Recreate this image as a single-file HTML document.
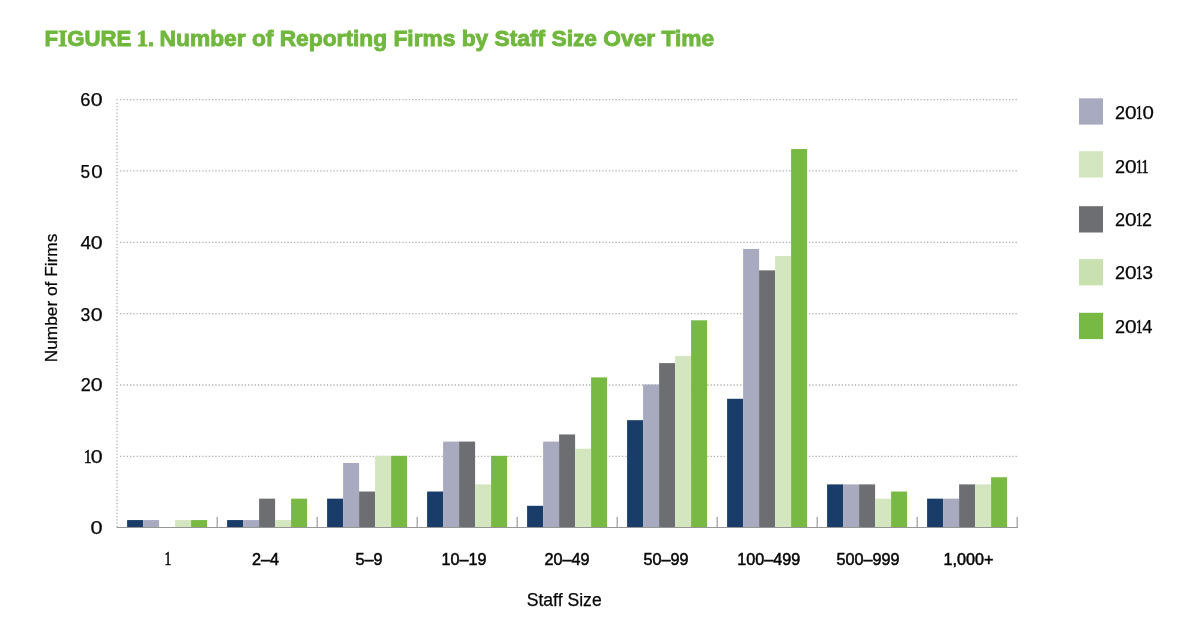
<!DOCTYPE html>
<html lang="en"><head><meta charset="utf-8"><title>FIGURE 1. Number of Reporting Firms by Staff Size Over Time</title>
<style>
html,body{margin:0;padding:0;background:#fff;}
body{width:1200px;height:626px;overflow:hidden;font-family:"Liberation Sans",sans-serif;}
svg{display:block}
text{font-family:"Liberation Sans",sans-serif;fill:#050505;stroke:#050505;stroke-width:0.25px;}
.title{font-weight:bold;font-size:22.6px;fill:#70b73d;stroke:#70b73d;stroke-width:0.9px;stroke-linejoin:miter;}
.sf{font-family:"Liberation Serif",serif;}
.title .sf{font-size:23.7px;}
.fz{font-size:18.8px;}
.fz .sf{font-size:19.7px;stroke-width:0.6px;}
.xt{font-size:16.2px;text-anchor:middle;stroke-width:0.5px;}
.ax{font-size:17.6px;}
</style></head><body>
<svg width="1200" height="626" viewBox="0 0 1200 626">
<rect width="1200" height="626" fill="#ffffff"/>
<text class="title" x="44.6" y="45.5" textLength="86.8" lengthAdjust="spacingAndGlyphs">F<tspan class="sf">I</tspan>GURE</text>
<text class="title" x="136.4" y="45.5" textLength="17.8" lengthAdjust="spacingAndGlyphs"><tspan class="sf">1</tspan>.</text>
<text class="title" x="159.6" y="45.5" textLength="554.6" lengthAdjust="spacingAndGlyphs">Number of Reporting Firms by Staff Size Over Time</text>
<line x1="120.15" y1="456.35" x2="1017.2" y2="456.35" stroke="#b0b0b0" stroke-width="1.3" stroke-dasharray="1.3 1.98"/>
<line x1="120.15" y1="385.00" x2="1017.2" y2="385.00" stroke="#b0b0b0" stroke-width="1.3" stroke-dasharray="1.3 1.98"/>
<line x1="120.15" y1="313.65" x2="1017.2" y2="313.65" stroke="#b0b0b0" stroke-width="1.3" stroke-dasharray="1.3 1.98"/>
<line x1="120.15" y1="242.30" x2="1017.2" y2="242.30" stroke="#b0b0b0" stroke-width="1.3" stroke-dasharray="1.3 1.98"/>
<line x1="120.15" y1="170.95" x2="1017.2" y2="170.95" stroke="#b0b0b0" stroke-width="1.3" stroke-dasharray="1.3 1.98"/>
<line x1="120.15" y1="99.60" x2="1017.2" y2="99.60" stroke="#b0b0b0" stroke-width="1.3" stroke-dasharray="1.3 1.98"/>
<line x1="117.0" y1="98.95" x2="117.0" y2="100.25" stroke="#b0b0b0" stroke-width="1.3"/>
<line x1="117.0" y1="102.7" x2="117.0" y2="527" stroke="#b0b0b0" stroke-width="1.3" stroke-dasharray="1.3 1.98"/>
<text class="fz" y="533.80"><tspan x="90.48" textLength="12.08" lengthAdjust="spacingAndGlyphs">0</tspan></text>
<text class="fz" y="463.45"><tspan class="sf" x="83.90" textLength="7.59" lengthAdjust="spacingAndGlyphs">1</tspan><tspan x="90.75" textLength="11.85" lengthAdjust="spacingAndGlyphs">0</tspan></text>
<text class="fz" y="390.80"><tspan x="80.69" textLength="10.08" lengthAdjust="spacingAndGlyphs">2</tspan><tspan x="90.75" textLength="11.85" lengthAdjust="spacingAndGlyphs">0</tspan></text>
<text class="fz" y="320.65"><tspan x="80.55" textLength="9.78" lengthAdjust="spacingAndGlyphs">3</tspan><tspan x="90.75" textLength="11.85" lengthAdjust="spacingAndGlyphs">0</tspan></text>
<text class="fz" y="248.60"><tspan x="80.52" textLength="10.67" lengthAdjust="spacingAndGlyphs">4</tspan><tspan x="90.75" textLength="11.85" lengthAdjust="spacingAndGlyphs">0</tspan></text>
<text class="fz" y="178.25"><tspan x="80.62" textLength="9.54" lengthAdjust="spacingAndGlyphs">5</tspan><tspan x="91.38" textLength="11.38" lengthAdjust="spacingAndGlyphs">0</tspan></text>
<text class="fz" y="106.10"><tspan x="80.33" textLength="10.18" lengthAdjust="spacingAndGlyphs">6</tspan><tspan x="90.75" textLength="11.85" lengthAdjust="spacingAndGlyphs">0</tspan></text>
<rect x="127.10" y="520.07" width="16.0" height="7.23" fill="#1a3c69"/>
<rect x="143.10" y="520.07" width="16.0" height="7.23" fill="#a8aac0"/>
<rect x="175.10" y="520.07" width="16.0" height="7.23" fill="#d3e6bf"/>
<rect x="191.10" y="520.07" width="16.0" height="7.23" fill="#77b943"/>
<rect x="227.10" y="520.07" width="16.0" height="7.23" fill="#1a3c69"/>
<rect x="243.10" y="520.07" width="16.0" height="7.23" fill="#a8aac0"/>
<rect x="259.10" y="498.66" width="16.0" height="28.64" fill="#6d6e71"/>
<rect x="275.10" y="520.07" width="16.0" height="7.23" fill="#d3e6bf"/>
<rect x="291.10" y="498.66" width="16.0" height="28.64" fill="#77b943"/>
<rect x="327.10" y="498.66" width="16.0" height="28.64" fill="#1a3c69"/>
<rect x="343.10" y="462.99" width="16.0" height="64.31" fill="#a8aac0"/>
<rect x="359.10" y="491.53" width="16.0" height="35.77" fill="#6d6e71"/>
<rect x="375.10" y="455.85" width="16.0" height="71.45" fill="#d3e6bf"/>
<rect x="391.10" y="455.85" width="16.0" height="71.45" fill="#77b943"/>
<rect x="427.10" y="491.53" width="16.0" height="35.77" fill="#1a3c69"/>
<rect x="443.10" y="441.58" width="16.0" height="85.72" fill="#a8aac0"/>
<rect x="459.10" y="441.58" width="16.0" height="85.72" fill="#6d6e71"/>
<rect x="475.10" y="484.39" width="16.0" height="42.91" fill="#d3e6bf"/>
<rect x="491.10" y="455.85" width="16.0" height="71.45" fill="#77b943"/>
<rect x="527.10" y="505.80" width="16.0" height="21.50" fill="#1a3c69"/>
<rect x="543.10" y="441.58" width="16.0" height="85.72" fill="#a8aac0"/>
<rect x="559.10" y="434.45" width="16.0" height="92.85" fill="#6d6e71"/>
<rect x="575.10" y="448.72" width="16.0" height="78.58" fill="#d3e6bf"/>
<rect x="591.10" y="377.37" width="16.0" height="149.93" fill="#77b943"/>
<rect x="627.10" y="420.18" width="16.0" height="107.12" fill="#1a3c69"/>
<rect x="643.10" y="384.50" width="16.0" height="142.80" fill="#a8aac0"/>
<rect x="659.10" y="363.10" width="16.0" height="164.20" fill="#6d6e71"/>
<rect x="675.10" y="355.96" width="16.0" height="171.34" fill="#d3e6bf"/>
<rect x="691.10" y="320.29" width="16.0" height="207.01" fill="#77b943"/>
<rect x="727.10" y="398.77" width="16.0" height="128.53" fill="#1a3c69"/>
<rect x="743.10" y="248.94" width="16.0" height="278.36" fill="#a8aac0"/>
<rect x="759.10" y="270.34" width="16.0" height="256.96" fill="#6d6e71"/>
<rect x="775.10" y="256.07" width="16.0" height="271.23" fill="#d3e6bf"/>
<rect x="791.10" y="149.05" width="16.0" height="378.25" fill="#77b943"/>
<rect x="827.10" y="484.39" width="16.0" height="42.91" fill="#1a3c69"/>
<rect x="843.10" y="484.39" width="16.0" height="42.91" fill="#a8aac0"/>
<rect x="859.10" y="484.39" width="16.0" height="42.91" fill="#6d6e71"/>
<rect x="875.10" y="498.66" width="16.0" height="28.64" fill="#d3e6bf"/>
<rect x="891.10" y="491.53" width="16.0" height="35.77" fill="#77b943"/>
<rect x="927.10" y="498.66" width="16.0" height="28.64" fill="#1a3c69"/>
<rect x="943.10" y="498.66" width="16.0" height="28.64" fill="#a8aac0"/>
<rect x="959.10" y="484.39" width="16.0" height="42.91" fill="#6d6e71"/>
<rect x="975.10" y="484.39" width="16.0" height="42.91" fill="#d3e6bf"/>
<rect x="991.10" y="477.26" width="16.0" height="50.04" fill="#77b943"/>
<line x1="116.7" y1="527.5" x2="1017.8" y2="527.5" stroke="#969696" stroke-width="1.15"/>
<line x1="217.2" y1="517" x2="217.2" y2="528.1" stroke="#969696" stroke-width="1.15"/>
<line x1="317.2" y1="517" x2="317.2" y2="528.1" stroke="#969696" stroke-width="1.15"/>
<line x1="417.2" y1="517" x2="417.2" y2="528.1" stroke="#969696" stroke-width="1.15"/>
<line x1="517.2" y1="517" x2="517.2" y2="528.1" stroke="#969696" stroke-width="1.15"/>
<line x1="617.2" y1="517" x2="617.2" y2="528.1" stroke="#969696" stroke-width="1.15"/>
<line x1="717.2" y1="517" x2="717.2" y2="528.1" stroke="#969696" stroke-width="1.15"/>
<line x1="817.2" y1="517" x2="817.2" y2="528.1" stroke="#969696" stroke-width="1.15"/>
<line x1="917.2" y1="517" x2="917.2" y2="528.1" stroke="#969696" stroke-width="1.15"/>
<line x1="1017.2" y1="517" x2="1017.2" y2="528.1" stroke="#969696" stroke-width="1.15"/>
<text class="fz" y="564.80"><tspan class="sf" x="164.54" textLength="6.80" lengthAdjust="spacingAndGlyphs">1</tspan></text>
<text class="xt" x="265.6" y="564.9">2–4</text>
<text class="xt" x="369.1" y="564.9">5–9</text>
<text class="xt" x="464.0" y="564.9">10–19</text>
<text class="xt" x="567.1" y="564.9">20–49</text>
<text class="xt" x="666.0" y="564.9">50–99</text>
<text class="xt" x="768.75" y="564.9">100–499</text>
<text class="xt" x="867.9" y="564.9">500–999</text>
<text class="xt" x="968.5" y="564.9">1,000+</text>
<text class="ax" x="564.2" y="605.5" text-anchor="middle">Staff Size</text>
<text class="ax" style="font-size:17.3px" transform="translate(57.0 298) rotate(-90)" text-anchor="middle">Number of Firms</text>
<rect x="1079" y="98.30" width="24" height="26.3" fill="#a8aac0"/>
<text class="fz" y="119.15"><tspan x="1115.04" textLength="10.08" lengthAdjust="spacingAndGlyphs">2</tspan><tspan x="1125.02" textLength="11.61" lengthAdjust="spacingAndGlyphs">0</tspan><tspan class="sf" x="1135.94" textLength="6.51" lengthAdjust="spacingAndGlyphs">1</tspan><tspan x="1142.53" textLength="11.38" lengthAdjust="spacingAndGlyphs">0</tspan></text>
<rect x="1079" y="151.20" width="24" height="26.3" fill="#d3e6bf"/>
<text class="fz" y="172.80"><tspan x="1115.04" textLength="10.08" lengthAdjust="spacingAndGlyphs">2</tspan><tspan x="1125.02" textLength="11.61" lengthAdjust="spacingAndGlyphs">0</tspan><tspan class="sf" x="1135.94" textLength="6.51" lengthAdjust="spacingAndGlyphs">1</tspan><tspan class="sf" x="1141.58" textLength="7.16" lengthAdjust="spacingAndGlyphs">1</tspan></text>
<rect x="1079" y="206.20" width="24" height="26.3" fill="#6d6e71"/>
<text class="fz" y="226.00"><tspan x="1115.04" textLength="10.08" lengthAdjust="spacingAndGlyphs">2</tspan><tspan x="1125.02" textLength="11.61" lengthAdjust="spacingAndGlyphs">0</tspan><tspan class="sf" x="1135.94" textLength="6.51" lengthAdjust="spacingAndGlyphs">1</tspan><tspan x="1141.90" textLength="9.96" lengthAdjust="spacingAndGlyphs">2</tspan></text>
<rect x="1079" y="259.10" width="24" height="26.3" fill="#c9e1b1"/>
<text class="fz" y="278.70"><tspan x="1115.04" textLength="10.08" lengthAdjust="spacingAndGlyphs">2</tspan><tspan x="1125.02" textLength="11.61" lengthAdjust="spacingAndGlyphs">0</tspan><tspan class="sf" x="1135.94" textLength="6.51" lengthAdjust="spacingAndGlyphs">1</tspan><tspan x="1142.23" textLength="10.78" lengthAdjust="spacingAndGlyphs">3</tspan></text>
<rect x="1079" y="312.80" width="24" height="26.3" fill="#77b943"/>
<text class="fz" y="333.00"><tspan x="1115.04" textLength="10.08" lengthAdjust="spacingAndGlyphs">2</tspan><tspan x="1125.02" textLength="11.61" lengthAdjust="spacingAndGlyphs">0</tspan><tspan class="sf" x="1135.94" textLength="6.51" lengthAdjust="spacingAndGlyphs">1</tspan><tspan x="1142.13" textLength="10.23" lengthAdjust="spacingAndGlyphs">4</tspan></text>
</svg>
</body></html>
